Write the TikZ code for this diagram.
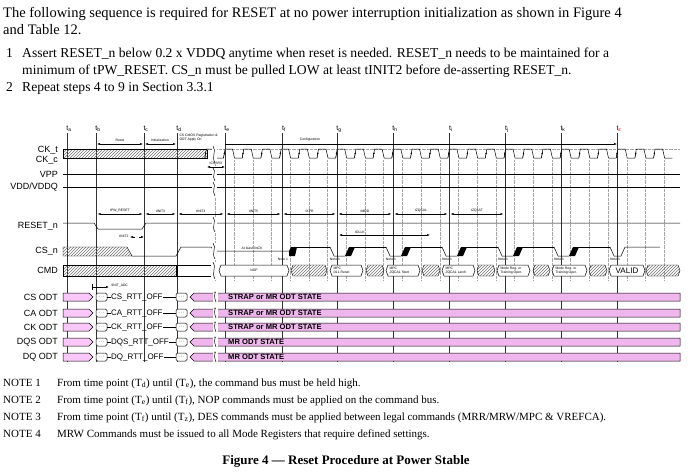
\documentclass[tikz,border=0pt]{standalone}
\usepackage{fontspec}
\setmainfont{Liberation Serif}
\newfontfamily\dsans{Liberation Sans}
\usetikzlibrary{patterns,arrows.meta}
\definecolor{odtA}{RGB}{250,200,248}
\definecolor{odtB}{RGB}{238,182,236}
\tikzset{
  sig/.style={draw=black,line width=0.5pt},
  hatch/.style={draw=black,line width=0.4pt,fill=gray!30,pattern=north east lines,pattern color=gray!90!black},
  tiny/.style={font=\dsans\fontsize{3.4}{4}\selectfont,inner sep=0.3pt},
  lbl/.style={font=\dsans\fontsize{9}{9}\selectfont,anchor=east,inner sep=0pt},
  odt/.style={font=\dsans\bfseries\fontsize{7.6}{8}\selectfont,anchor=west,inner sep=0pt},
  body/.style={font=\fontsize{14.5}{16}\selectfont,anchor=base west,inner sep=0pt},
  item/.style={font=\fontsize{13.6}{15}\selectfont,anchor=base west,inner sep=0pt},
  note/.style={font=\fontsize{11}{12}\selectfont,anchor=base west,inner sep=0pt},
  tarr/.style={line width=0.4pt,{Latex[length=3pt,width=2pt]}-{Latex[length=3pt,width=2pt]}},
  vline/.style={line width=0.5pt,draw=black!80},
  grid/.style={densely dotted,draw=gray!70,line width=0.3pt},
}
\newcommand\brk[3]{\draw[line width=0.6pt,fill=white,draw=white] (#1-2,#2) rectangle (#1+2,#3);
  \draw[line width=0.5pt] (#1-1,#2) .. controls (#1+3,{#2+(#3-#2)*0.3}) and (#1-3,{#2+(#3-#2)*0.6}) .. (#1+1,#3);}
\newcommand\cmdbox[3]{\draw[sig,fill=white] (#1,270.5) -- (#1+2,265) -- (#2-2,265) -- (#2,270.5) -- (#2-2,276) -- (#1+2,276) -- cycle;
  \node[tiny,align=left,anchor=west] at (#1+3,270.5) {#3};}
\newcommand\hatchbox[2]{\draw[hatch] (#1,270.5) -- (#1+2,265) -- (#2-2,265) -- (#2,270.5) -- (#2-2,276) -- (#1+2,276) -- cycle;}
\newcommand\odtrow[4]{% y, name, text, state
  \node[lbl] at (58,#1) {#2};
  \draw[sig,fill=odtA] (63,#1-4) -- (89,#1-4) -- (93,#1) -- (89,#1+4) -- (63,#1+4) -- cycle;
  \draw[sig,fill=white,rounded corners=1.5pt] (96,#1-4) rectangle (107,#1+4);
  \node[tiny] at (101.5,#1) {- - -};
  \draw[line width=0.5pt] (107,#1) -- (111,#1);
  \node[font=\dsans\fontsize{8}{8}\selectfont,anchor=west,inner sep=0pt] (t#2) at (111,#1) {#3};
  \draw[line width=0.5pt] (t#2.east) -- (176,#1);
  \draw[sig,fill=white,rounded corners=1.5pt] (176,#1-4) rectangle (187,#1+4);
  \node[tiny] at (181.5,#1) {- - -};
  \draw[sig,fill=odtB] (190,#1) -- (194,#1-4) -- (680,#1-4) -- (680,#1+4) -- (194,#1+4) -- cycle;
  \brk{215}{#1-5}{#1+5}
  \node[odt] at (228,#1) {#4};}
\begin{document}
\begin{tikzpicture}[x=1pt,y=-1pt]
\useasboundingbox (0,0) rectangle (692,471);
% ---------- text ----------
\node[body] (l1) at (3,17) {The following sequence is required for RESET at no power interruption initialization as shown in Figure 4};
\node[body] (l2) at (3,34) {and Table 12.};
\node[item] (n1) at (6,57) {1};
\node[item] (i1) at (22,57) {Assert RESET\_n below 0.2 x VDDQ anytime when reset is needed. RESET\_n needs to be maintained for a};
\node[item] (i1b) at (22,74) {minimum of tPW\_RESET. CS\_n must be pulled LOW at least tINIT2 before de-asserting RESET\_n.};
\node[item] (n2) at (6,91) {2};
\node[item] (i2) at (22,91) {Repeat steps 4 to 9 in Section 3.3.1};
% ---------- time lines ----------
\foreach \x/\n in {67/a,96/b,144/c,177/d,225/e,282/f,337/g,393/h,449/i,505/j,561/k}{
  \draw[vline] (\x,133) -- (\x,362);
  \node[font=\dsans\fontsize{7}{7}\selectfont,inner sep=0pt] (T\n) at (\x+2,129) {t\textsubscript{\n}};
}
\draw[vline] (617,133) -- (617,362);
\node[font=\dsans\fontsize{7}{7}\selectfont,inner sep=0pt] (Tz) at (619,129) {t\textsubscript{\color{red}z}};
% grid dashed lines
\foreach \k in {-1,...,24}{
  \pgfmathsetmacro\r{225+\k*18.7+9}
  \ifdim\r pt<680pt \draw[grid] (\r,160) -- (\r,280); \fi
}
% header arrows
\draw[tarr] (97,144) -- (143,144); \node[tiny] at (120,140) {Reset};
\draw[tarr] (145,144) -- (176,144); \node[tiny] at (160,140) {Initialization};
\node[tiny,align=left,anchor=south west] at (179,142) {CS CMOS Registration \&\\ODT Apply On};
\draw[line width=0.4pt,-{Latex[length=3pt,width=2pt]}] (225,144) -- (617,144);
\node[tiny] at (310,140) {Configuration};
% ---------- labels ----------
\node[lbl] at (58,150) {CK\_t};
\node[lbl] at (58,160) {CK\_c};
\node[lbl] at (58,174) {VPP};
\node[lbl] at (58,187) {VDD/VDDQ};
\node[lbl] at (58,226) {RESET\_n};
\node[lbl] at (58,251) {CS\_n};
\node[lbl] at (58,270) {CMD};
% ---------- CK ----------
\draw[hatch] (63,149) rectangle (207,158);
\draw[grid] (207,149) -- (680,149);
\foreach \k in {-1,...,24}{
  \pgfmathsetmacro\r{225+\k*18.7}
  \ifdim\r pt<672pt
  \draw[sig] (\r-1.5,158) -- (\r,149) -- (\r+7.5,149) -- (\r+9.5,158) -- (\r+17.2,158);
  \draw[line width=0.3pt,-{Latex[length=2pt,width=1.6pt]}] (\r-1.5,158) -- (\r-0.4,152);
  \fi
}
\brk{214}{146}{163}
\draw[tarr] (207,167) -- (225,167); \node[tiny] at (216,163) {tCKSRX};
% ---------- VPP / VDD ----------
\draw[sig] (63,174) -- (680,174);
\draw[sig] (63,187) -- (680,187);
\brk{214}{168}{181}
\brk{214}{182}{196}
% ---------- RESET_n ----------
\draw[sig] (63,223) -- (94,223) -- (98,229) -- (142,229) -- (146,223) -- (680,223);
\brk{214}{217}{232}
\foreach \a/\b/\t in {96/144/tPW\_RESET,144/177/tINIT3,177/225/tINIT4,225/282/tINIT5,282/337/tXPR,337/393/tMRD,393/449/tZQCAL,449/505/tZQLAT}{
  \draw[tarr] (\a+1.5,214) -- (\b-1.5,214);
  \node[tiny] at ({(\a+\b)/2},211) {\t};
}
\draw[tarr] (339,235) -- (430,235); \node[tiny] at (360,232) {tDLLK};
\draw[line width=0.4pt,-{Latex[length=3pt,width=2pt]}] (135,237) -- (130,237);
\draw[line width=0.4pt,-{Latex[length=3pt,width=2pt]}] (139,237) -- (144,237);
\node[tiny] at (124,236) {tINIT2};
% ---------- CS_n ----------
\draw[hatch] (63,247) -- (127,247) -- (132,256) -- (63,256) -- cycle;
\draw[sig] (132,256) -- (176,256) -- (181,247) -- (211,247) -- (214,251) -- (289,251);
\brk{214}{243}{259}
\node[tiny] at (252,248) {At least 3nCK};
\fill[black] (289,251) -- (291,247) -- (297,247) -- (295,256) -- (289,256) -- cycle;
\node[tiny] at (283,259) {Note 1};
\draw[sig] (297,247) -- (330,247);
\foreach \T/\nx in {337/386,393/442,449/498,505/554,561/610}{
  \draw[sig] (\T-7,247) -- (\T-3,256) -- (\T+8,256);
  \fill[black] (\T+8,256) -- (\T+12,247) -- (\T+18,247) -- (\T+14,256) -- cycle;
  \draw[sig] (\T+18,247) -- (\nx,247);
  \node[tiny] at (\T-2,259) {Note 1};
}
\draw[sig] (610,247) -- (614,256) -- (621,256) -- (625,247) -- (660,247);
\node[tiny] at (615,259) {Note 1};
% ---------- CMD ----------
\draw[hatch] (63,265) -- (176,265) -- (176,276) -- (63,276) -- cycle;
\draw[sig] (177,265) -- (211,265) (177,276) -- (211,276);
\draw[sig] (177,265) -- (177,276);
\brk{214}{262}{279}
\cmdbox{219}{289}{}
\node[tiny] at (254,270.5) {NOP};
\hatchbox{291}{327}
\cmdbox{330}{363}{MPC\\DLL Reset}
\hatchbox{366}{384}
\cmdbox{386}{420}{MPC\\ZQCAL Start}
\hatchbox{422}{440}
\cmdbox{442}{475}{MPC\\ZQCAL Latch}
\hatchbox{477}{495}
\cmdbox{497}{530}{Mode Reg. or\\Training Oper.}
\hatchbox{533}{550}
\cmdbox{552}{587}{Mode Reg. or\\Training Oper.}
\hatchbox{589}{607}
\draw[sig,fill=white] (609,270.5) -- (611,265) -- (643,265) -- (645,270.5) -- (643,276) -- (611,276) -- cycle;
\node[font=\dsans\fontsize{8}{8}\selectfont,inner sep=0pt] at (627,270.5) {VALID};
\hatchbox{646}{680}
% ---------- ODT ----------
\draw[line width=0.4pt,-{Latex[length=3pt,width=2pt]}] (92,287) -- (109,287);
\draw[line width=0.4pt] (92,284) -- (92,290);
\node[tiny,anchor=west] at (111,286) {tINIT\_ADC};
\odtrow{297}{CS ODT}{CS\_RTT\_OFF}{STRAP or MR ODT STATE}
\odtrow{313}{CA ODT}{CA\_RTT\_OFF}{STRAP or MR ODT STATE}
\odtrow{327}{CK ODT}{CK\_RTT\_OFF}{STRAP or MR ODT STATE}
\odtrow{342}{DQS ODT}{DQS\_RTT\_OFF}{MR ODT STATE}
\odtrow{357}{DQ ODT}{DQ\_RTT\_OFF}{MR ODT STATE}
% ---------- notes ----------
\node[note] at (3,386) {NOTE 1};
\node[note] at (57,386) {From time point (T\textsubscript{d}) until (T\textsubscript{e}), the command bus must be held high.};
\node[note] at (3,403) {NOTE 2};
\node[note] at (57,403) {From time point (T\textsubscript{e}) until (T\textsubscript{f}), NOP commands must be applied on the command bus.};
\node[note] at (3,420) {NOTE 3};
\node[note] at (57,420) {From time point (T\textsubscript{f}) until (T\textsubscript{z}), DES commands must be applied between legal commands (MRR/MRW/MPC \& VREFCA).};
\node[note] at (3,437) {NOTE 4};
\node[note] at (57,437) {MRW Commands must be issued to all Mode Registers that require defined settings.};
\node[font=\bfseries\fontsize{13}{14}\selectfont,inner sep=0pt] at (346,461) {Figure 4 --- Reset Procedure at Power Stable};
\end{tikzpicture}
\end{document}
